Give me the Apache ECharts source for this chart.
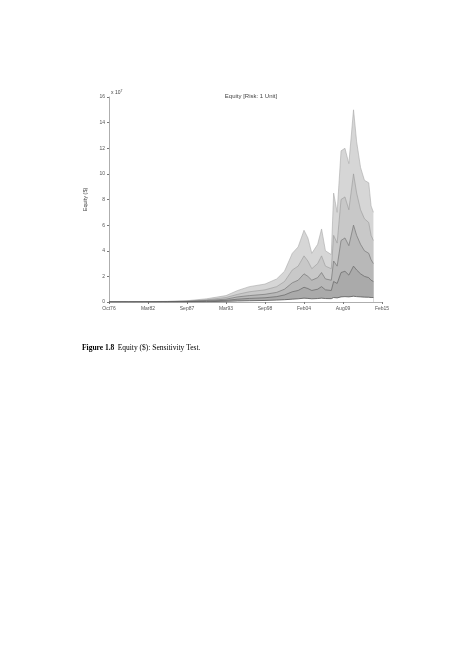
<!DOCTYPE html>
<html><head><meta charset="utf-8">
<script src="https://cdn.jsdelivr.net/npm/echarts@6/dist/echarts.min.js"></script>
<style>html,body{margin:0;background:#fff}#c{width:474px;height:670px}</style>
</head><body><div id="c"></div>
<script>
var tickLabels=['Oct76','Mar82','Sep87','Mar93','Sep98','Feb04','Aug09','Feb15'];
var xs=[0,0.5,1,1.5,2,2.5,3,3.3,3.6,4,4.3,4.5,4.7,4.85,5,5.1,5.2,5.35,5.45,5.55,5.7,5.76,5.85,5.95,6.05,6.15,6.27,6.35,6.45,6.55,6.66,6.72,6.78];
var maxS=[0.02,0.02,0.03,0.05,0.1,0.25,0.5,0.9,1.2,1.4,1.8,2.4,3.8,4.3,5.6,5.0,3.8,4.5,5.7,4.0,3.7,8.5,7.0,11.8,12.0,10.8,15.0,12.5,10.5,9.5,9.3,7.5,7.0];
var q75=[0.01,0.015,0.02,0.04,0.07,0.17,0.35,0.6,0.8,0.95,1.2,1.6,2.5,2.8,3.6,3.2,2.6,3.0,3.6,2.8,2.6,5.2,4.6,8.0,8.2,7.2,10.0,8.5,7.2,6.5,6.2,5.2,4.8];
var mid=[0.01,0.01,0.015,0.03,0.05,0.12,0.22,0.4,0.5,0.6,0.75,1.0,1.5,1.7,2.2,2.0,1.7,1.9,2.3,1.8,1.7,3.2,2.8,4.8,5.0,4.4,6.0,5.2,4.5,4.0,3.8,3.3,3.0];
var q25=[0.005,0.008,0.01,0.02,0.03,0.07,0.13,0.22,0.28,0.33,0.42,0.55,0.8,0.9,1.15,1.05,0.9,1.0,1.2,0.95,0.9,1.6,1.45,2.3,2.4,2.1,2.8,2.5,2.2,2.0,1.9,1.7,1.6];
var minS=[0.002,0.004,0.006,0.01,0.015,0.03,0.05,0.08,0.1,0.12,0.15,0.18,0.22,0.25,0.3,0.28,0.25,0.27,0.3,0.27,0.26,0.35,0.32,0.4,0.42,0.4,0.45,0.42,0.4,0.38,0.37,0.35,0.35];
function pts(a){return xs.map(function(x,i){return [x,a[i]];});}
function ln(a,c,w,area){var s={type:'line',data:pts(a),symbol:'none',silent:true,lineStyle:{color:c,width:w}};if(area)s.areaStyle={color:area,opacity:1};return s;}
var ch=echarts.init(document.getElementById('c'));
var ax={color:'#555',fontSize:5,fontFamily:'Liberation Sans'};
ch.setOption({
 animation:false,
 title:{text:'Equity [Risk: 1 Unit]',left:246,top:88,textAlign:'center',textStyle:{fontSize:6,fontWeight:'normal',color:'#444',fontFamily:'Liberation Sans'}},
 graphic:[
  {type:'text',left:111,top:89,style:{rich:{a:{fontSize:5,fill:'#444',fontFamily:'Liberation Sans'},s:{fontSize:3.5,fill:'#444',fontFamily:'Liberation Sans',verticalAlign:'top',padding:[0,0,3,0]}},text:'{a|x 10}{s|7}'}},
  {type:'text',left:82,top:342,style:{rich:{b:{fontWeight:'bold',fontSize:7.5,fontFamily:'Liberation Serif',fill:'#000'},n:{fontSize:7.5,fontFamily:'Liberation Serif',fill:'#000'}},text:'{b|Figure 1.8} {n|Equity ($): Sensitivity Test.}'}}
 ],
 grid:{left:109,right:92,top:97,bottom:368},
 xAxis:{type:'value',min:0,max:7,interval:1,axisLine:{lineStyle:{color:'#777',width:0.6}},axisTick:{length:2,lineStyle:{color:'#777'}},splitLine:{show:false},
  axisLabel:Object.assign({margin:4,formatter:function(v){return tickLabels[Math.round(v)];}},ax)},
 yAxis:{type:'value',min:0,max:16,interval:2,name:'Equity ($)',nameLocation:'middle',nameGap:12,nameTextStyle:{fontSize:5.5,color:'#444',fontFamily:'Liberation Sans'},
  axisLine:{show:true,lineStyle:{color:'#777',width:0.6}},axisTick:{show:true,length:2,lineStyle:{color:'#777'}},splitLine:{show:false},axisLabel:Object.assign({margin:4},ax)},
 series:[
  ln(maxS,'#aaa',0.6,'#d6d6d6'),
  ln(q75,'#999',0.6,'#c8c8c8'),
  ln(mid,'#777',0.7,'#b8b8b8'),
  ln(q25,'#666',0.7,'#aaaaaa'),
  ln(minS,'#555',0.8,'#ffffff')
 ]
});
</script></body></html>
